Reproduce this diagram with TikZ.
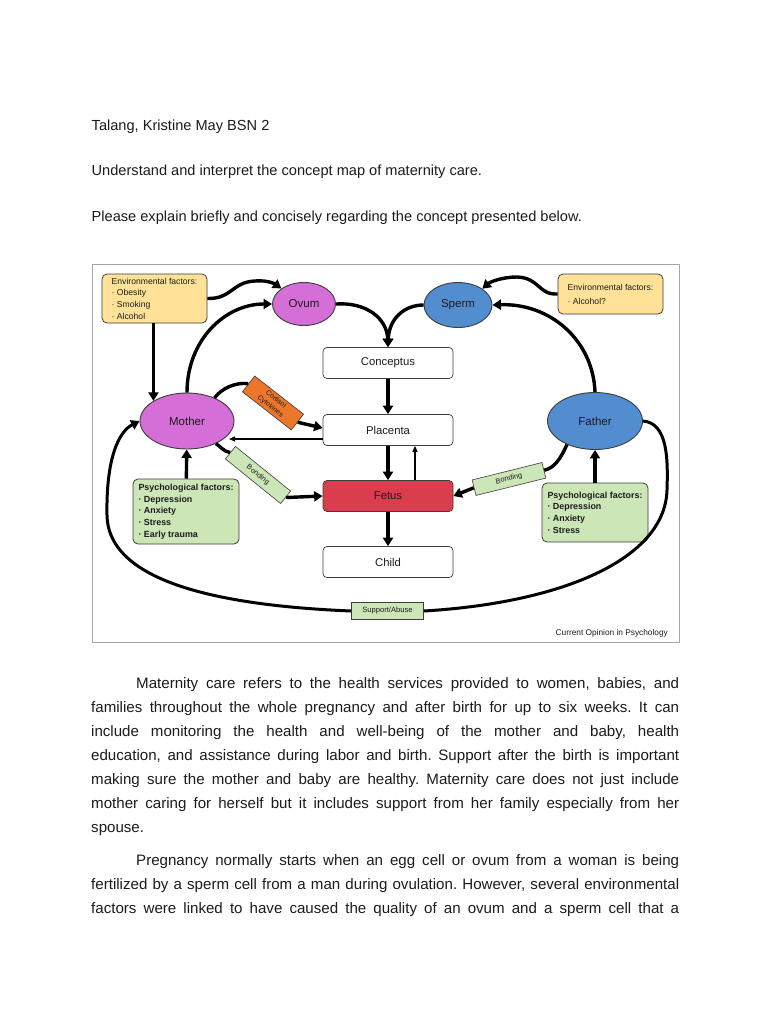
\documentclass[tikz,border=0pt]{standalone}
\usepackage{fontspec}
\setmainfont{Liberation Sans}
\usetikzlibrary{arrows.meta,shapes.geometric}
\definecolor{ovumc}{RGB}{213,110,214}
\definecolor{spermc}{RGB}{82,141,208}
\definecolor{fetusc}{RGB}{218,62,78}
\definecolor{orangec}{RGB}{236,118,42}
\definecolor{greenc}{RGB}{205,230,183}
\definecolor{yellowc}{RGB}{255,226,152}
\definecolor{edgec}{RGB}{60,60,60}
\definecolor{textc}{RGB}{28,28,28}
\begin{document}
\frenchspacing
\begin{tikzpicture}[x=1pt,y=-1pt,
  thk/.style={line width=3.4pt,-{Triangle[length=8.5pt,width=10pt]}},
  thkplain/.style={line width=3.4pt},
  suppline/.style={line width=3pt},
  thn/.style={line width=1.1pt,-{Triangle[length=6pt,width=5pt]}},
  cell/.style={ellipse,draw=edgec,line width=0.9pt,inner sep=0pt,text=textc,font=\fontsize{11.5}{13}\selectfont},
  stagebox/.style={rectangle,rounded corners=4pt,draw=edgec,line width=0.7pt,minimum width=130pt,minimum height=31pt,inner sep=0pt,fill=white,font=\fontsize{11.3}{13}\selectfont,text=textc},
  factorbox/.style={rectangle,rounded corners=5pt,draw=edgec,line width=0.8pt,inner sep=0pt,align=left,text=textc},
  tagbox/.style={rectangle,draw=edgec,line width=0.6pt,inner sep=0pt,fill=greenc,text=textc},
  hdr/.style={anchor=base west,inner sep=0pt,font=\fontsize{14.6}{17}\selectfont,text=textc},
  body/.style={anchor=base west,inner sep=0pt,font=\fontsize{15.1}{18}\selectfont,text=textc}
]
\fill[white] (0,0) rectangle (768,1024);
\useasboundingbox (0,0) rectangle (768,1024);

% header text
\node[hdr] (name) at (91.5,131) {Talang, Kristine May BSN 2};
\node[hdr] (task) at (91.5,176) {Understand and interpret the concept map of maternity care.};
\node[hdr] (ask) at (91.5,222) {Please explain briefly and concisely regarding the concept presented below.};

% diagram frame
\node[draw=black!35,line width=0.8pt,minimum width=587pt,minimum height=378pt,inner sep=0pt] (frame) at (385.5,453) {};

% nodes
\node[cell,fill=ovumc,minimum width=63pt,minimum height=43pt] (ovum) at (304,304) {Ovum};
\node[cell,fill=spermc,minimum width=68pt,minimum height=45pt] (sperm) at (458,305) {Sperm};
\node[cell,fill=ovumc,minimum width=94pt,minimum height=56pt] (mother) at (187,421) {Mother};
\node[cell,fill=spermc,minimum width=95pt,minimum height=57pt] (father) at (595,421) {Father};

\node[stagebox] (conceptus) at (388,363) {Conceptus};
\node[stagebox] (placenta) at (388,430) {Placenta};
\node[stagebox,fill=fetusc] (fetus) at (388,496) {Fetus};
\node[stagebox] (child) at (388,562) {Child};

\node[factorbox,fill=yellowc,minimum width=105pt,minimum height=49pt,font=\fontsize{8.6}{11.7}\selectfont] (envL) at (154.5,298.5) {Environmental factors:\\· Obesity\\· Smoking\\· Alcohol};
\node[factorbox,fill=yellowc,minimum width=105pt,minimum height=40pt,font=\fontsize{8.6}{14}\selectfont] (envR) at (610.5,294) {Environmental factors:\\· Alcohol?};
\node[factorbox,fill=greenc,minimum width=106pt,minimum height=65pt,font=\bfseries\fontsize{8.9}{11.6}\selectfont] (psyL) at (186,511.5) {Psychological factors:\\· Depression\\· Anxiety\\· Stress\\· Early trauma};
\node[factorbox,fill=greenc,minimum width=106pt,minimum height=59pt,font=\bfseries\fontsize{8.9}{11.7}\selectfont] (psyR) at (595,512.5) {Psychological factors:\\· Depression\\· Anxiety\\· Stress};

\node[tagbox,fill=orangec,rotate=-38,minimum width=62pt,minimum height=20pt,align=center,font=\fontsize{7}{9}\selectfont] (cort) at (273,403) {Cortisol\\Cytokines};
\node[tagbox,rotate=-39,minimum width=71pt,minimum height=16pt,font=\fontsize{7.4}{8}\selectfont] (bondL) at (258,475) {Bonding};
\node[tagbox,rotate=14,minimum width=72pt,minimum height=16pt,font=\fontsize{7.4}{8}\selectfont] (bondR) at (509,479) {Bonding};
\node[tagbox,minimum width=72pt,minimum height=17pt,font=\fontsize{7.6}{8}\selectfont] (supp) at (387.5,611) {Support/Abuse};

\node[anchor=base east,inner sep=0pt,font=\fontsize{8.3}{9}\selectfont,text=textc] (credit) at (668,635) {Current Opinion in Psychology};

\coordinate (mtip) at (229,439);

% connectors
\draw[thk] (envL.east) .. controls (232,299) and (232,282) .. (255,281) .. controls (268,280) and (275,284) .. (ovum.north west);
\draw[thk] (envL.south -| mother.north west) -- (mother.north west);
\draw[thk] (mother.north) .. controls (187,340) and (225,304) .. (ovum.west);
\draw[thk] (ovum.east) .. controls (366,302) and (387,318) .. (conceptus.north);
\draw[thk] (sperm.west) .. controls (405,305) and (389,318) .. (conceptus.north);
\draw[thk] (conceptus) -- (placenta);
\draw[thk] (placenta) -- (fetus);
\draw[thk] (fetus) -- (child);
\draw[thn] ([xshift=27pt]fetus.north) -- ([xshift=27pt]placenta.south);
\draw[thn] ([yshift=-9pt]placenta.west) -- (mtip);

\draw[thkplain] (mother.40) .. controls (222,388) and (236,382) .. (cort.west);
\draw[thk] (cort.east) -- ([yshift=2pt]placenta.west);
\draw[thkplain] (mother.-38) .. controls (220,446) and (224,452) .. (bondL.west);
\draw[thk] (bondL.east) -- (fetus.west);
\draw[thkplain] (father.-140) .. controls (560,460) and (554,468) .. (bondR.east);
\draw[thk] (bondR.west) -- (fetus.east);

\draw[thk] (father.north) .. controls (593,340) and (550,303) .. (sperm.east);
\draw[thk] (envR.west) .. controls (538,295) and (540,278) .. (517,277) .. controls (502,277) and (490,282) .. (sperm.north east);

\draw[thk] (psyL) -- (mother);
\draw[thk] (psyR) -- (father);

\draw[suppline] (father.east) .. controls (668,423) and (668,460) .. (667,490) .. controls (665,560) and (560,603) .. (supp.east);
\draw[suppline,-{Triangle[length=8.5pt,width=10pt]}] (supp.west) .. controls (230,606) and (108,585) .. (107,515) .. controls (106,460) and (118,432) .. (mother.west);

% body text
\node[body] (p1a) at (136,688) {\makebox[543pt][s]{Maternity care refers to the health services provided to women, babies, and}};
\node[body] (p1b) at (91,712) {\makebox[588pt][s]{families throughout the whole pregnancy and after birth for up to six weeks. It can}};
\node[body] (p1c) at (91,736) {\makebox[588pt][s]{include monitoring the health and well-being of the mother and baby, health}};
\node[body] (p1d) at (91,760) {\makebox[588pt][s]{education, and assistance during labor and birth. Support after the birth is important}};
\node[body] (p1e) at (91,784) {\makebox[588pt][s]{making sure the mother and baby are healthy. Maternity care does not just include}};
\node[body] (p1f) at (91,808) {\makebox[588pt][s]{mother caring for herself but it includes support from her family especially from her}};
\node[body] (p1g) at (91,832) {spouse.};

\node[body] (p2a) at (136,865) {\makebox[543pt][s]{Pregnancy normally starts when an egg cell or ovum from a woman is being}};
\node[body] (p2b) at (91,889) {\makebox[588pt][s]{fertilized by a sperm cell from a man during ovulation. However, several environmental}};
\node[body] (p2c) at (91,913) {\makebox[588pt][s]{factors were linked to have caused the quality of an ovum and a sperm cell that a}};
\end{tikzpicture}
\end{document}
